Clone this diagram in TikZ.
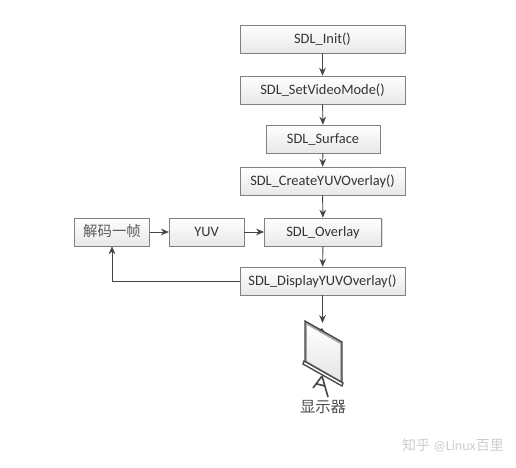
\documentclass[tikz,border=0pt]{standalone}
\usepackage{fontspec}
\setmainfont{Carlito}
\newfontfamily\cjk{Noto Sans CJK SC}
\usepackage{xcolor}
\usetikzlibrary{arrows.meta, shadows}
\definecolor{edge}{RGB}{128,128,128}
\definecolor{line}{RGB}{70,70,70}
\definecolor{boxlow}{RGB}{232,232,232}
\definecolor{mark}{RGB}{205,205,205}

\begin{document}
\begin{tikzpicture}[
  x=0.75pt, y=-0.75pt,
  font=\fontsize{10.8pt}{12pt}\selectfont, >={Stealth[length=6pt,width=5pt]},
  box/.style={rectangle, draw=edge, top color=white, bottom color=boxlow,
              minimum height=21pt, text centered, inner sep=0pt, text=black!80,
              text height=8pt, text depth=1.5pt,
              drop shadow={shadow xshift=0.8pt, shadow yshift=-0.8pt, fill=black!25}},
  wide/.style={box, minimum width=123.75pt},
  mid/.style={box, minimum width=85.5pt},
  small/.style={box, minimum width=56pt},
  flow/.style={->, draw=line, line width=0.7pt},
  side/.style={->, draw=line, line width=0.5pt},
]
\useasboundingbox (0,0) rectangle (516,467);
\node[wide] (init)    at (322.5,39)  {SDL\_Init()};
\node[wide] (mode)    at (322.5,90)  {SDL\_SetVideoMode()};
\node[mid]  (surface) at (323,139)   {SDL\_Surface};
\node[wide] (create)  at (322.5,181) {SDL\_CreateYUVOverlay()};
\node[box, minimum width=88pt] (overlay) at (323,232) {SDL\_Overlay};
\node[small] (yuv)     at (206.5,232) {YUV};
\node[small] (decode)  at (112,232) {\cjk\color{black!65}解码一帧};
\node[wide] (show)    at (322.5,281) {SDL\_DisplayYUVOverlay()};
\coordinate (screen) at (322.5,323);
\node[font=\fontsize{11.5pt}{13pt}\selectfont, text=black!70] (name) at (323,407) {\cjk 显示器};
\node[font=\fontsize{10.5pt}{12pt}\selectfont, text=mark] (mark) at (453,445) {{\cjk 知乎} @Linux{\cjk 百里}};
\draw[flow] (init) -- (mode);
\draw[flow] (mode) -- (surface);
\draw[flow] (surface) -- (create);
\draw[flow] (create) -- (overlay);
\draw[flow] (overlay) -- (show);
\draw[flow] (show) -- (screen);
\draw[side] (decode) -- (yuv);
\draw[side] (yuv) -- (overlay);
\draw[side] (show.west) -| (decode.south);
% screen
\draw[line, line width=1pt, fill=black!35]
  (305,321) -- (342,342) -- (342,383) -- (305,363) -- cycle;
\shade[top color=white, bottom color=black!10] (307,325) -- (340,344) -- (340,380) -- (307,361) -- cycle;
\draw[line, fill=white, line width=1pt] (304,361) -- (343,383) -- (342,386) -- (303,364) -- cycle;
\fill[line] (322,328) -- (325,333) -- (319,330) -- cycle;
\draw[line, line width=1.2pt] (322,376) -- (313,388) (322,376) -- (328,397) (317,384) -- (325,386);
\end{tikzpicture}
\end{document}
